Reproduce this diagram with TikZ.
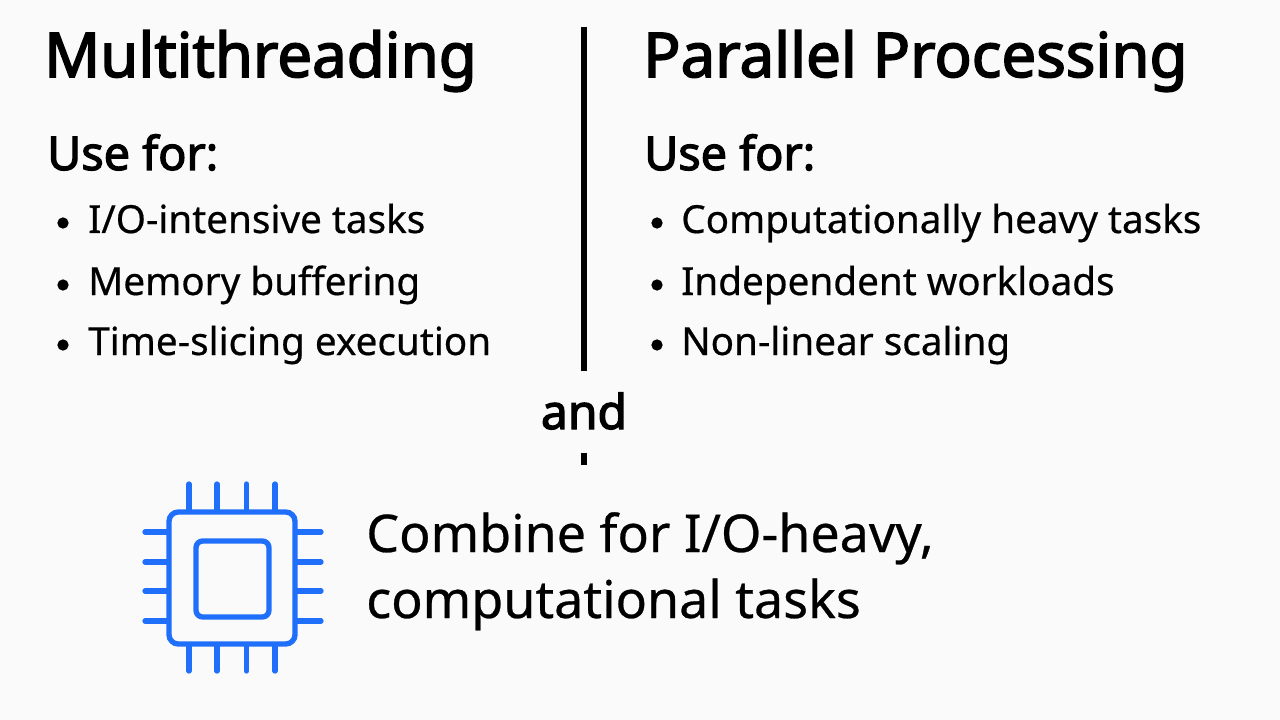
\documentclass[tikz,border=0pt]{standalone}
\usepackage{fontspec}
\setmainfont[FakeBold=0.5]{Noto Sans}
\newfontfamily\headfont[FakeBold=2.6]{Noto Sans}
\definecolor{chipblue}{RGB}{31,111,250}
\definecolor{paper}{RGB}{250,250,250}
\tikzset{
    titletext/.style={anchor=base west,inner sep=0pt,font=\headfont\fontsize{46.3}{54}\selectfont},
    headtext/.style={anchor=base west,inner sep=0pt,font=\headfont\fontsize{35}{40}\selectfont},
    itemtext/.style={anchor=base west,inner sep=0pt,font=\fontsize{29}{34}\selectfont},
    bigtext/.style={anchor=base west,inner sep=0pt,font=\fontsize{39}{46}\selectfont},
    dot/.style={circle,fill=black,inner sep=0pt,minimum size=8.5pt},
    divider/.style={line width=3.8pt},
    chip/.style={draw=chipblue,line width=4pt,rounded corners=7pt},
    pin/.style={draw=chipblue,line width=4pt,line cap=round},
}
\begin{document}
\begin{tikzpicture}[x=0.75pt,y=0.75pt,yscale=-1,xscale=1]
    \fill [paper] (0,0) rectangle (1280,720);
    \useasboundingbox (0,0) rectangle (1280,720);

    % divider
    \draw [divider] (584,27) -- (584,371);
    \draw [divider] (584,453) -- (584,465);

    % left column
    \node (multi) [titletext] at (44,77) {Multithreading};
    \node (useleft) [headtext] at (47,170) {Use for:};
    \foreach \y/\txt/\id in {233/I\slash O-intensive tasks/a,295/Memory buffering/b,355/Time-slicing execution/c}{
        \node (dotl\id) [dot] at (63,\y-10) {};
        \node (iteml\id) [itemtext] at (88,\y) {\txt};
    }

    % right column
    \node (para) [titletext] at (643,77) {Parallel Processing};
    \node (useright) [headtext] at (644,170) {Use for:};
    \foreach \y/\txt/\id in {233/Computationally heavy tasks/a,295/Independent workloads/b,355/Non-linear scaling/c}{
        \node (dotr\id) [dot] at (657,\y-10) {};
        \node (itemr\id) [itemtext] at (681,\y) {\txt};
    }

    \node (and) [anchor=base,inner sep=0pt,font=\headfont\fontsize{36}{44}\selectfont] at (584,429) {and};

    % chip icon
    \foreach \x in {189,217,246.5,275}{
        \draw [pin] (\x,484) -- (\x,512);
        \draw [pin] (\x,644) -- (\x,671);
    }
    \foreach \y in {532,562,591,621}{
        \draw [pin] (145,\y) -- (169,\y);
        \draw [pin] (295,\y) -- (321,\y);
    }
    \draw [chip,fill=paper] (169,512) rectangle (295,644);
    \draw [chip,rounded corners=5pt] (196,541) rectangle (269,617);

    \node (combone) [bigtext] at (366,552) {Combine for I\slash O-heavy,};
    \node (combtwo) [bigtext] at (366,618) {computational tasks};
\end{tikzpicture}
\end{document}
